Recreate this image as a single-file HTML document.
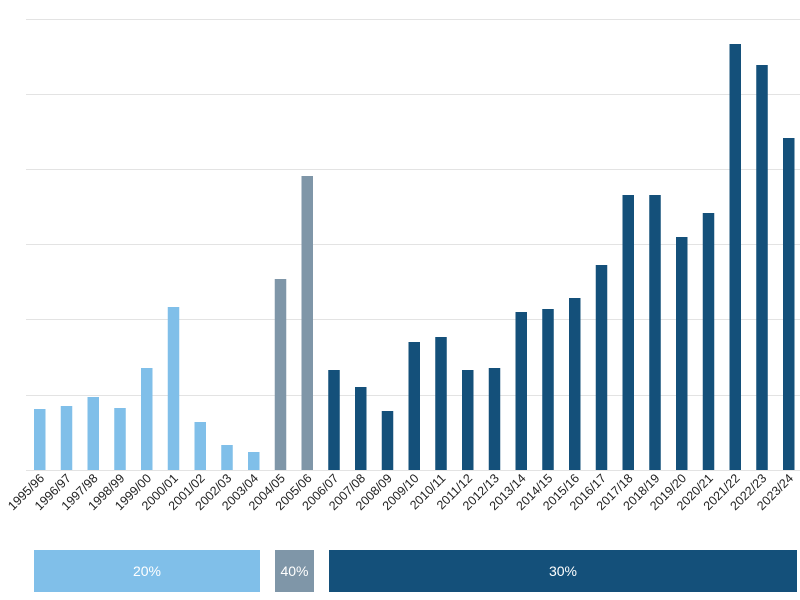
<!DOCTYPE html>
<html><head><style>
body{margin:0;background:#fff;}
svg{display:block;font-family:"Liberation Sans",sans-serif;}
</style></head><body>
<svg width="800" height="600" xmlns="http://www.w3.org/2000/svg">
<g stroke="#e3e3e3" stroke-width="1">
<line x1="26" x2="800" y1="19.5" y2="19.5"/>
<line x1="26" x2="800" y1="94.5" y2="94.5"/>
<line x1="26" x2="800" y1="169.5" y2="169.5"/>
<line x1="26" x2="800" y1="244.5" y2="244.5"/>
<line x1="26" x2="800" y1="319.5" y2="319.5"/>
<line x1="26" x2="800" y1="395.5" y2="395.5"/>
<line x1="26" x2="800" y1="470.5" y2="470.5"/>
</g>
<g id="bars"></g>
<g id="labels" font-size="12.5" fill="#222"></g>
<rect x="34" y="550" width="226" height="42" fill="#80bfe9"/>
<rect x="275" y="550" width="39" height="42" fill="#7f96a8"/>
<rect x="329" y="550" width="468" height="42" fill="#14507a"/>
<g font-size="14" fill="#fff" text-anchor="middle">
<text x="147" y="576">20%</text>
<text x="294.5" y="576">40%</text>
<text x="563" y="576">30%</text>
</g>
<script>
var tops=[409,406,397,408,368,307,422,445,452,279,176,370,387,411,342,337,370,368,312,309,298,265,195,195,237,213,44,65,138];
var b=document.getElementById('bars'),l=document.getElementById('labels'),ns='http://www.w3.org/2000/svg';
for(var i=0;i<29;i++){
 var x=34+i*26.75;
 var c=i<9?'#80bfe9':(i<11?'#7f96a8':'#14507a');
 var r=document.createElementNS(ns,'rect');
 r.setAttribute('x',x);r.setAttribute('y',tops[i]);r.setAttribute('width',11.5);r.setAttribute('height',470-tops[i]);r.setAttribute('fill',c);b.appendChild(r);
 var y1=1995+i,y2=String((y1+1)%100).padStart(2,'0');
 var t=document.createElementNS(ns,'text');
 var cx=x+11,cy=479;
 t.setAttribute('x',cx);t.setAttribute('y',cy);t.setAttribute('text-anchor','end');
 t.setAttribute('transform','rotate(-45 '+cx+' '+cy+')');
 t.textContent=y1+'/'+y2;l.appendChild(t);
}
</script>
</svg>
</body></html>
